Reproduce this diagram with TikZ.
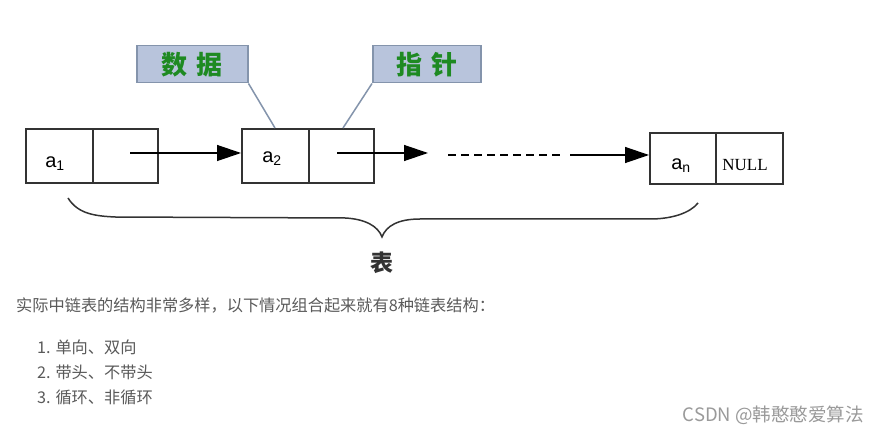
\documentclass[tikz,border=0pt]{standalone}
\usepackage{fontspec}
\setmainfont{Liberation Serif}
\newfontfamily\cjk{Noto Sans CJK SC}
\newfontfamily\asf{Liberation Sans}
\usetikzlibrary{arrows.meta}
\definecolor{boxline}{HTML}{333333}
\definecolor{tagfill}{HTML}{B8C4DC}
\definecolor{tagline}{HTML}{8494AC}
\definecolor{taggreen}{HTML}{1E8A22}
\definecolor{txtgray}{HTML}{5A5A5A}
\definecolor{wmgray}{HTML}{9A9A9A}
\tikzset{
  cell/.style={draw=boxline, line width=1.8pt, minimum height=54pt, inner sep=0pt, anchor=north west},
  tag/.style={draw=tagline, fill=tagfill, line width=1.5pt, minimum width=111pt, minimum height=37pt, inner sep=0pt, anchor=north west, text=taggreen, font=\cjk\bfseries\fontsize{26}{26}\selectfont},
  tagcon/.style={draw=tagline, line width=1.5pt},
  link/.style={draw=black, line width=1.3pt, -{Triangle[length=24pt,width=16pt]}},
  elem/.style={font=\asf\fontsize{20}{20}\selectfont, inner sep=0pt},
  para/.style={text=txtgray, font=\cjk\fontsize{16.2}{16.2}\selectfont, anchor=west, inner sep=0pt}
}
\begin{document}
\begin{tikzpicture}[x=1pt,y=-1pt]
\useasboundingbox[fill=white] (0,0) rectangle (880,435);
% node 1
\node[cell, minimum width=67pt] (d1) at (25,128) {};
\node[cell, minimum width=65pt] (n1) at (92,128) {};
% node 2
\node[cell, minimum width=67pt] (d2) at (241,128) {};
\node[cell, minimum width=65pt] (n2) at (308,128) {};
% node n
\node[cell, minimum width=66pt, minimum height=51pt] (dn) at (649,132) {};
\node[cell, minimum width=67pt, minimum height=51pt] (nn) at (715,132) {};
% element labels
\node[elem] (a1) at (55,164) {a\textsubscript{1}};
\node[elem] (a2) at (272,159) {a\textsubscript{2}};
\node[elem] (an) at (681,166) {a\textsubscript{n}};
\node[font=\fontsize{17}{17}\selectfont, inner sep=0pt] (null) at (745,165) {NULL};
% links
\coordinate (p1) at (130,153);
\draw[link] (p1) -- (p1 -| d2.west);
\coordinate (p2) at (337,153);
\coordinate (e2) at (428,153);
\draw[link] (p2) -- (e2);
\coordinate (q1) at (448,155);
\coordinate (q2) at (563,155);
\draw[line width=1.3pt, dash pattern=on 8pt off 5pt] (q1) -- (q2);
\coordinate (q3) at (570,155);
\draw[link] (q3) -- (q3 -| dn.west);
% tags
\node[tag] (tdata) at (136,45) {数\hspace{9pt}据};
\node[tag, minimum width=108pt] (tptr) at (372,45) {指\hspace{9pt}针};
\coordinate (c1) at (275,128);
\coordinate (c2) at (343,128);
\draw[tagcon] (tdata.south east) -- (c1);
\draw[tagcon] (tptr.south west) -- (c2);
% brace
\coordinate (b1) at (68,198);
\coordinate (btip) at (382,237);
\coordinate (b2) at (698,203);
\draw[line width=1.5pt, draw=boxline] (b1) .. controls (78,214) and (95,216) .. (115,217)
  -- (345,218) .. controls (365,219) and (378,226) .. (btip)
  .. controls (386,226) and (398,219) .. (420,219)
  -- (650,219) .. controls (672,219) and (690,213) .. (b2);
\node[font=\cjk\bfseries\fontsize{23}{23}\selectfont, text=boxline, inner sep=0pt] (biao) at (382,263) {表};
% text
\node[para] (t0) at (16,306) {实际中链表的结构非常多样，以下情况组合起来就有8种链表结构：};
\node[para] (t1) at (37,347) {1. 单向、双向};
\node[para] (t2) at (37,372) {2. 带头、不带头};
\node[para] (t3) at (37,397) {3. 循环、非循环};
\node[text=wmgray, font=\cjk\fontsize{18.5}{18.5}\selectfont, anchor=east, inner sep=0pt] (wm) at (864,415) {CSDN @韩憨憨爱算法};
\end{tikzpicture}
\end{document}
